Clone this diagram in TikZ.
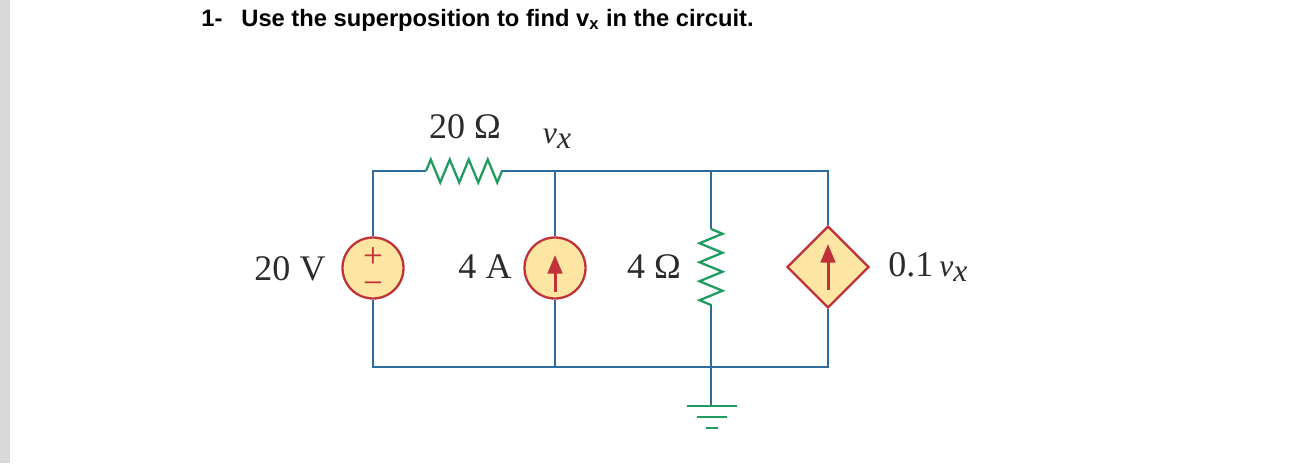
\documentclass[tikz,border=0pt]{standalone}
\usepackage{fontspec}
\setmainfont{Liberation Serif}
\newfontfamily\titlefont{Liberation Sans}
\usetikzlibrary{arrows.meta, shapes.geometric, decorations.pathmorphing}
\definecolor{wireblue}{HTML}{2F6C9E}
\definecolor{resgreen}{HTML}{1E9B5E}
\definecolor{srcred}{HTML}{C1313A}
\definecolor{srcfill}{HTML}{FDE6A3}
\definecolor{txtgray}{HTML}{2B2B2B}
\tikzset{
	wire/.style={draw=wireblue, line width=1.3pt},
	res/.style={draw=resgreen, line width=1.3pt, decorate, decoration={zigzag, segment length=0.38cm, amplitude=0.23cm}},
	gnd/.style={draw=resgreen, line width=1.2pt},
	srccirc/.style={draw=srcred, fill=srcfill, line width=1.3pt, circle, minimum size=1.22cm, inner sep=0pt},
	srcdiam/.style={draw=srcred, fill=srcfill, line width=1.3pt, diamond, minimum size=1.64cm, inner sep=0pt},
	srcarrow/.style={draw=srcred, line width=1.7pt, -{Triangle[length=0.37cm, width=0.29cm, fill=srcred]}},
	lab/.style={text=txtgray, font=\fontsize{20.5}{24}\selectfont, inner sep=0pt},
	sgn/.style={text=srcred, font=\fontsize{20}{15.4}\selectfont, inner sep=0pt, align=center}
}
\newcommand{\vxlabel}{{\fontsize{18}{20}\selectfont\textit{v}\raisebox{-0.35ex}{\textit{x}}}}
\begin{document}
\begin{tikzpicture}[x=0.02cm, y=-0.02cm]
				\useasboundingbox (0, 0) rectangle (1290, 463);
				\fill[black!15] (0, 0) rectangle (10, 463);

				% Title
				\node[anchor=west, inner sep=0pt, text=black, font=\titlefont\bfseries\fontsize{13.5}{16}\selectfont] (title) at (201, 20) {1-\hspace{0.8em}Use the superposition to find v\textsubscript{x} in the circuit.};

				% Junctions
				\coordinate (tl) at (373, 171);
				\coordinate (t2) at (555, 171);
				\coordinate (t3) at (711, 171);
				\coordinate (tr) at (828, 171);
				\coordinate (bl) at (373, 367);
				\coordinate (b2) at (555, 367);
				\coordinate (b3) at (711, 367);
				\coordinate (br) at (828, 367);
				\coordinate (ra) at (426, 171);
				\coordinate (rb) at (502, 171);
				\coordinate (rc) at (711, 229);
				\coordinate (rd) at (711, 305);
				\coordinate (g0) at (711, 406);
				\coordinate (g1a) at (687, 406);
				\coordinate (g1b) at (737, 406);
				\coordinate (g2a) at (697, 417);
				\coordinate (g2b) at (727, 417);
				\coordinate (g3a) at (706, 428);
				\coordinate (g3b) at (718, 428);
				\coordinate (i1a) at (555, 292);
				\coordinate (i1b) at (555, 255);
				\coordinate (i2a) at (828, 290);
				\coordinate (i2b) at (828, 244);

				% Sources
				\node[srccirc] (vs) at (373, 268) {};
				\node[srccirc] (is) at (555, 268) {};
				\node[srcdiam] (ds) at (828, 267) {};
				\node[sgn] (vsign) at (373, 271) {+\\\symbol{"2212}};

				% Edges
				\draw[wire] (vs) -- (tl) -- (ra);
				\draw[wire] (rb) -- (tr) -- (ds);
				\draw[wire] (vs) -- (bl) -- (br) -- (ds);
				\draw[wire] (is) -- (t2);
				\draw[wire] (is) -- (b2);
				\draw[wire] (t3) -- (rc);
				\draw[wire] (rd) -- (b3) -- (g0);
				\draw[res] (ra) -- (rb);
				\draw[res] (rc) -- (rd);
				\draw[srcarrow] (i1a) -- (i1b);
				\draw[srcarrow] (i2a) -- (i2b);
				\draw[gnd] (g1a) -- (g1b);
				\draw[gnd] (g2a) -- (g2b);
				\draw[gnd] (g3a) -- (g3b);

				% Labels
				\node[lab] (r1lab) at (465, 127) {20 Ω};
				\node[lab] (vxlab) at (557, 139) {\vxlabel};
				\node[lab] (vlab) at (290, 269) {20 V};
				\node[lab] (alab) at (485, 267) {4 A};
				\node[lab] (r2lab) at (654, 267) {4 Ω};
				\node[lab, anchor=west] (dlab) at (888, 267) {0.1\,\vxlabel};
			\end{tikzpicture}
\end{document}
